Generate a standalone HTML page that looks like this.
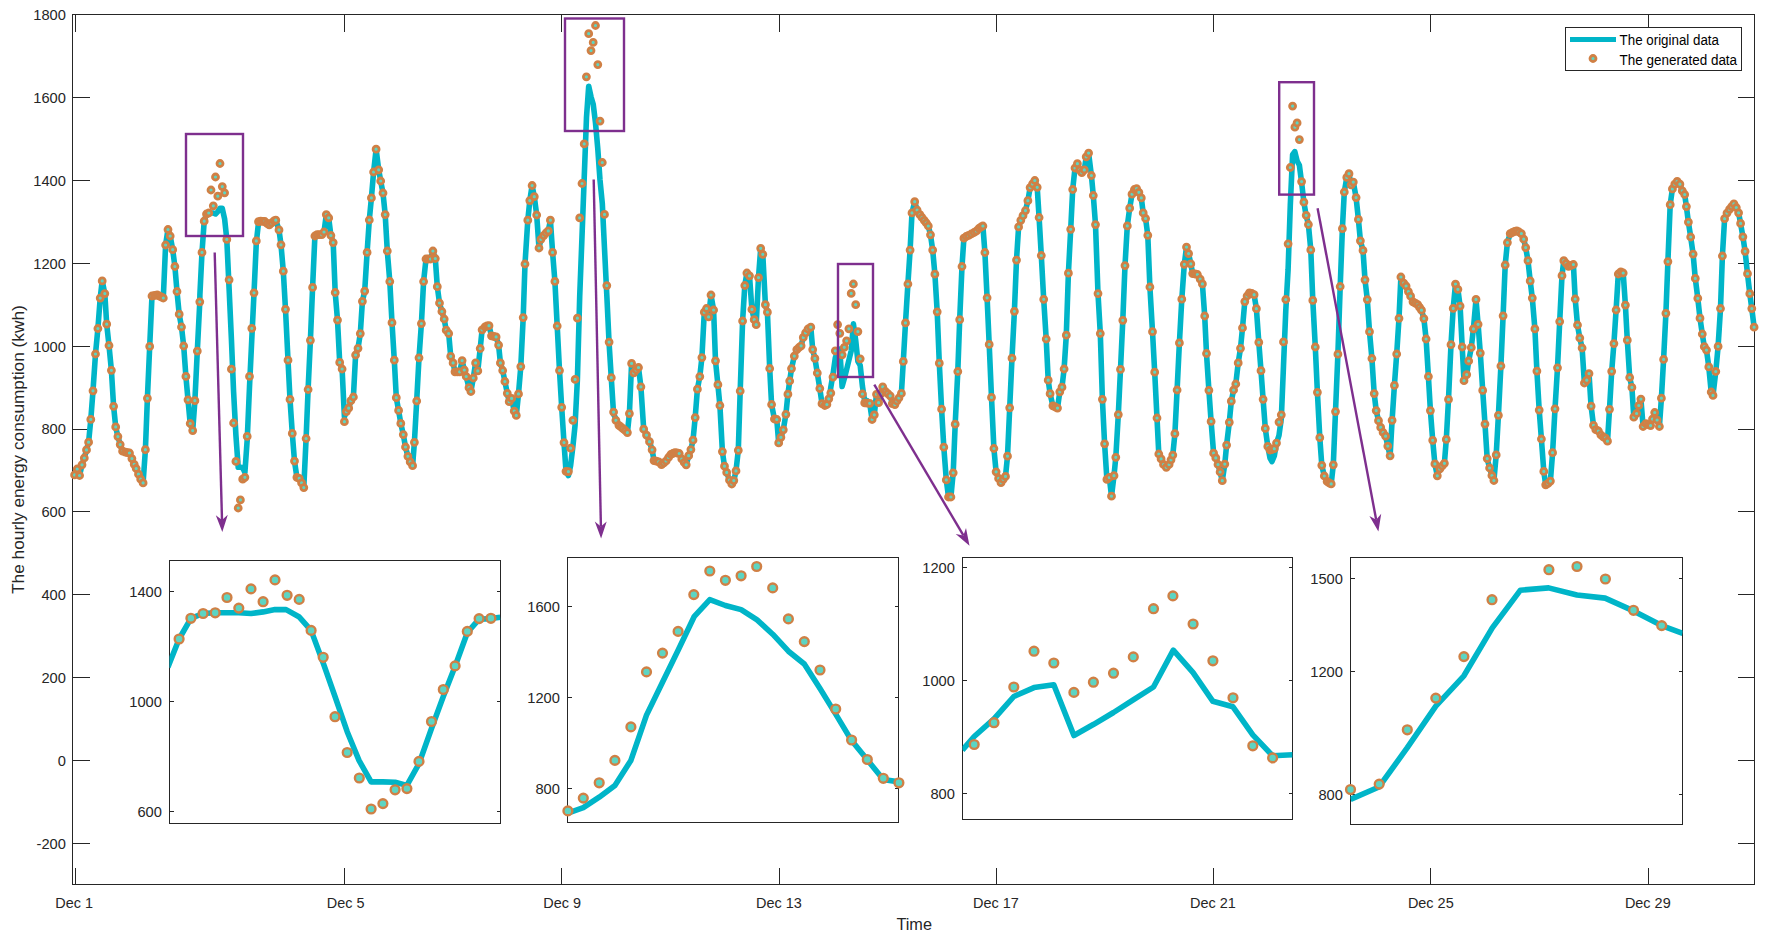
<!DOCTYPE html>
<html lang="en"><head><meta charset="utf-8"><title>Hourly energy consumption</title>
<style>html,body{margin:0;padding:0;background:#fff}body{width:1766px;height:939px;overflow:hidden}</style></head>
<body>
<svg width="1766" height="939" viewBox="0 0 1766 939" style="display:block">
<rect x="0" y="0" width="1766" height="939" fill="#fff"/>
<g stroke="#262626" stroke-width="1" fill="none" shape-rendering="crispEdges">
<rect x="72.5" y="14.5" width="1682.0" height="870.0"/>
<path d="M75.5 884.5v-17M75.5 14.5v17"/>
<path d="M344.5 884.5v-17M344.5 14.5v17"/>
<path d="M561.5 884.5v-17M561.5 14.5v17"/>
<path d="M779.5 884.5v-17M779.5 14.5v17"/>
<path d="M996.5 884.5v-17M996.5 14.5v17"/>
<path d="M1213.5 884.5v-17M1213.5 14.5v17"/>
<path d="M1430.5 884.5v-17M1430.5 14.5v17"/>
<path d="M1648.5 884.5v-17M1648.5 14.5v17"/>
<path d="M72.5 14.5h17M1754.5 14.5h-17"/>
<path d="M72.5 97.4h17M1754.5 97.4h-17"/>
<path d="M72.5 180.3h17M1754.5 180.3h-17"/>
<path d="M72.5 263.20000000000005h17M1754.5 263.20000000000005h-17"/>
<path d="M72.5 346.1h17M1754.5 346.1h-17"/>
<path d="M72.5 429.0h17M1754.5 429.0h-17"/>
<path d="M72.5 511.90000000000003h17M1754.5 511.90000000000003h-17"/>
<path d="M72.5 594.8000000000001h17M1754.5 594.8000000000001h-17"/>
<path d="M72.5 677.7h17M1754.5 677.7h-17"/>
<path d="M72.5 760.6h17M1754.5 760.6h-17"/>
<path d="M72.5 843.5h17M1754.5 843.5h-17"/>
</g>
<g font-family="Liberation Sans, Arial, Helvetica, sans-serif" font-size="14.67px" fill="#262626">
<text x="65.9" y="19.9" text-anchor="end" >1800</text>
<text x="65.9" y="102.8" text-anchor="end" >1600</text>
<text x="65.9" y="185.7" text-anchor="end" >1400</text>
<text x="65.9" y="268.6" text-anchor="end" >1200</text>
<text x="65.9" y="351.5" text-anchor="end" >1000</text>
<text x="65.9" y="434.4" text-anchor="end" >800</text>
<text x="65.9" y="517.3" text-anchor="end" >600</text>
<text x="65.9" y="600.2" text-anchor="end" >400</text>
<text x="65.9" y="683.1" text-anchor="end" >200</text>
<text x="65.9" y="766.0" text-anchor="end" >0</text>
<text x="65.9" y="848.9" text-anchor="end" >-200</text>
<text x="74.2" y="907.7" text-anchor="middle" textLength="37.7" lengthAdjust="spacingAndGlyphs">Dec 1</text>
<text x="345.6" y="907.7" text-anchor="middle" textLength="37.7" lengthAdjust="spacingAndGlyphs">Dec 5</text>
<text x="562.1" y="907.7" text-anchor="middle" textLength="37.7" lengthAdjust="spacingAndGlyphs">Dec 9</text>
<text x="779.0" y="907.7" text-anchor="middle" textLength="45.8" lengthAdjust="spacingAndGlyphs">Dec 13</text>
<text x="996.0" y="907.7" text-anchor="middle" textLength="45.8" lengthAdjust="spacingAndGlyphs">Dec 17</text>
<text x="1212.9" y="907.7" text-anchor="middle" textLength="45.8" lengthAdjust="spacingAndGlyphs">Dec 21</text>
<text x="1430.8" y="907.7" text-anchor="middle" textLength="45.8" lengthAdjust="spacingAndGlyphs">Dec 25</text>
<text x="1647.8" y="907.7" text-anchor="middle" textLength="45.8" lengthAdjust="spacingAndGlyphs">Dec 29</text>
</g>
<text font-family="Liberation Sans, Arial, Helvetica, sans-serif" font-size="17.3px" fill="#262626" x="914.2" y="929.8" text-anchor="middle" textLength="35.6" lengthAdjust="spacingAndGlyphs">Time</text>
<text font-family="Liberation Sans, Arial, Helvetica, sans-serif" font-size="17.3px" fill="#262626" text-anchor="middle" textLength="288.7" lengthAdjust="spacingAndGlyphs" transform="translate(23.6 449.6) rotate(-90)">The hourly energy consumption (kwh)</text>
<polyline points="74.6,474.9 77.2,469.0 79.6,475.5 82.0,464.8 84.3,458.0 86.5,449.9 88.6,442.2 90.8,419.4 93.0,390.8 95.5,354.0 97.9,328.5 100.2,298.1 102.2,280.9 104.8,293.6 106.7,324.2 109.0,345.5 111.4,370.3 113.6,406.3 115.7,426.9 117.9,436.6 120.2,444.6 122.6,451.2 125.4,452.1 129.5,453.0 131.9,458.6 134.2,464.3 136.2,468.5 138.5,474.2 140.7,479.2 143.1,482.9 145.4,449.7 147.4,398.3 149.7,346.4 152.0,296.0 157.2,295.0 161.3,297.0 163.3,298.0 165.6,245.0 168.0,229.5 170.2,236.0 172.7,249.7 174.9,266.5 177.0,291.5 179.2,314.2 181.5,327.0 183.7,346.0 185.9,376.4 188.0,399.8 190.2,423.5 192.7,430.6 194.9,400.7 197.3,351.1 199.8,301.8 199.9,294.7 202.0,252.4 204.2,221.2 206.5,214.0 208.8,213.0 211.0,213.0 213.3,213.0 215.5,214.0 217.8,211.6 220.0,208.2 222.2,208.2 224.6,218.8 226.8,239.4 229.1,288.5 231.4,338.9 233.6,391.8 235.9,435.0 238.2,467.2 240.4,467.2 242.7,467.7 244.9,472.5 247.2,439.8 249.5,387.0 251.8,338.9 254.0,293.3 256.3,242.8 258.5,222.6 260.7,221.7 262.5,219.8 264.8,221.5 267.1,223.5 269.3,224.8 271.6,223.0 273.9,221.0 275.8,220.2 279.0,229.9 281.0,244.8 283.3,271.2 285.5,309.3 288.0,360.2 290.0,399.4 292.3,433.4 294.5,461.1 296.9,477.3 299.2,478.3 301.6,482.9 303.8,487.6 306.1,438.5 308.1,389.5 310.4,340.3 312.6,287.4 314.9,236.0 317.2,234.7 319.5,234.7 321.8,234.7 324.0,232.0 326.3,214.6 328.7,217.9 330.9,235.5 333.2,242.6 335.2,292.5 337.5,320.1 339.7,362.4 342.1,369.0 344.4,416.6 346.4,411.6 348.7,408.2 350.9,400.7 353.4,397.0 355.6,355.0 358.0,348.3 360.3,333.6 362.4,301.3 364.7,291.1 367.1,252.4 369.3,220.0 371.4,197.9 373.6,172.0 376.1,149.2 378.7,169.8 380.7,181.0 383.0,193.0 385.2,214.6 387.3,251.0 389.8,281.5 392.0,322.7 394.3,360.2 396.3,397.7 398.6,410.4 400.8,423.4 403.3,434.6 405.5,447.0 407.9,456.3 410.2,461.9 412.6,465.7 414.4,442.3 416.7,401.0 419.0,357.8 421.4,323.6 423.6,281.5 426.0,259.0 428.3,259.0 430.6,259.0 432.9,251.0 435.3,258.5 437.3,286.7 439.5,303.0 441.9,311.5 444.2,319.0 446.2,330.2 448.7,333.5 450.7,356.3 453.1,362.9 455.0,371.8 457.4,371.8 459.7,371.8 462.1,360.6 464.3,370.0 466.2,376.5 469.0,387.7 470.9,391.5 473.3,378.0 475.6,362.9 477.8,370.9 480.2,348.5 482.1,329.8 484.9,327.0 487.0,326.0 489.0,325.7 491.5,335.8 493.8,336.5 496.1,336.9 498.6,345.1 500.4,362.9 502.7,370.5 504.9,381.5 507.3,393.3 509.2,401.7 511.6,398.4 514.2,411.1 516.3,415.4 518.5,393.9 520.8,366.6 523.2,317.6 525.0,264.0 527.8,220.2 529.8,200.6 532.1,185.5 534.3,196.7 536.7,215.0 539.0,248.0 540.9,239.3 543.7,235.6 546.0,233.0 548.3,230.9 550.4,220.2 552.6,252.4 554.9,281.4 557.2,326.0 559.5,370.5 561.7,407.3 564.0,442.6 566.0,471.3 568.4,475.6 570.6,465.7 572.9,446.5 575.1,424.9 577.4,379.4 579.7,296.6 582.0,236.6 584.2,178.3 586.5,117.1 588.7,86.2 591.0,96.7 593.2,104.2 595.5,122.9 597.8,149.1 600.0,180.0 602.3,203.4 604.5,248.3 606.8,294.9 609.1,343.3 611.3,378.3 613.6,414.4 615.9,418.5 618.9,425.3 621.0,427.0 623.0,428.7 625.2,430.5 627.4,432.6 629.4,413.6 631.6,363.4 633.8,372.8 636.2,370.0 638.5,367.5 640.9,386.8 643.7,429.2 646.5,435.1 649.5,441.7 652.1,449.8 654.0,460.6 656.3,461.2 658.7,461.9 661.5,464.7 663.8,463.0 666.1,461.0 668.5,457.5 670.8,454.5 672.9,453.5 674.9,452.6 677.0,453.0 679.2,453.5 681.8,459.0 684.2,462.5 686.2,464.8 688.7,455.7 690.9,449.6 693.0,440.2 695.2,417.6 697.4,389.2 699.8,376.6 701.9,357.6 704.3,312.2 706.5,308.5 708.6,316.9 711.0,295.0 713.6,310.0 715.5,360.8 717.9,384.7 719.9,405.5 722.4,451.6 724.5,466.2 726.7,472.4 729.5,480.2 731.8,484.0 733.8,480.6 736.0,470.9 738.3,450.3 740.2,391.0 742.6,321.0 744.8,285.5 746.9,273.0 749.5,275.8 751.9,309.4 754.2,319.7 756.2,324.7 758.5,277.6 760.7,248.3 762.8,254.3 765.4,304.7 767.4,312.2 769.7,368.5 771.6,404.5 774.4,419.0 776.8,419.5 778.7,442.9 780.9,437.3 783.3,429.8 785.9,414.3 787.9,394.2 789.7,381.0 791.5,368.6 794.3,356.1 796.8,349.6 799.0,347.5 801.1,345.8 803.3,337.4 805.6,332.8 808.0,329.0 810.8,327.2 812.7,349.6 814.9,358.4 817.3,373.0 819.8,388.5 822.0,403.7 824.8,405.5 826.9,404.5 829.5,397.3 830.8,387.2 833.0,374.3 835.3,357.9 837.6,351.3 839.8,349.2 842.1,386.5 844.4,378.3 846.6,369.6 848.9,360.2 851.2,350.8 853.4,323.9 855.7,340.3 857.9,361.4 860.2,365.4 862.4,386.0 864.7,401.3 867.0,400.6 869.7,403.3 872.1,419.5 874.3,414.8 876.5,394.3 878.6,402.7 880.7,394.0 882.7,386.8 885.5,391.5 887.8,393.6 890.2,395.8 892.3,403.6 894.9,404.6 896.9,401.0 898.9,398.0 901.4,393.4 903.3,361.4 905.5,322.9 907.9,284.0 910.1,250.1 912.0,212.9 914.7,201.7 917.1,210.0 919.9,214.7 922.0,217.5 924.2,220.3 926.3,223.0 928.3,226.0 930.5,234.8 932.7,250.1 934.9,274.2 937.2,311.8 939.3,363.2 941.6,409.2 943.8,447.2 946.3,479.9 948.5,497.0 950.9,497.0 953.2,472.8 955.2,424.2 957.8,371.5 959.7,319.7 962.0,266.5 963.9,238.2 966.2,236.5 968.6,235.4 971.3,234.0 974.1,232.5 976.5,231.0 978.9,228.5 981.0,227.0 982.9,226.0 984.9,252.5 987.1,297.8 989.2,344.4 991.5,397.4 993.9,448.5 996.1,471.8 998.6,478.4 1001.0,482.7 1003.2,479.3 1005.5,476.4 1007.5,456.2 1009.7,407.8 1012.0,358.2 1014.4,311.3 1016.5,260.1 1018.6,226.9 1020.8,220.3 1023.0,215.7 1025.5,210.6 1027.9,200.7 1030.1,187.6 1032.6,183.9 1034.8,180.5 1037.2,187.3 1039.1,217.5 1041.3,255.5 1043.7,299.3 1046.2,339.0 1048.2,380.2 1050.1,393.7 1052.9,405.8 1055.2,407.0 1057.5,408.1 1059.8,391.8 1062.0,387.2 1064.1,369.0 1066.3,335.2 1068.4,273.2 1070.7,229.3 1072.7,189.5 1075.0,168.0 1077.4,163.7 1079.6,170.0 1081.8,172.7 1084.3,169.9 1086.2,156.8 1088.6,153.1 1091.4,175.5 1093.3,195.5 1095.5,224.6 1098.0,293.6 1100.3,333.5 1102.4,399.3 1104.6,443.8 1106.9,479.4 1109.3,477.5 1111.5,496.2 1114.0,475.7 1115.8,457.3 1118.3,414.6 1120.5,369.4 1122.8,320.3 1125.0,265.6 1127.3,225.9 1129.7,208.2 1132.0,194.2 1134.4,189.5 1136.6,188.6 1138.9,192.3 1141.3,197.9 1143.2,212.9 1145.6,218.5 1147.8,235.3 1149.9,287.0 1152.5,331.7 1154.7,372.2 1157.0,418.0 1158.8,454.0 1161.1,458.9 1163.5,464.5 1166.3,467.3 1169.1,464.5 1171.0,459.8 1172.8,455.1 1174.9,433.7 1177.1,390.0 1179.4,342.9 1181.8,299.2 1184.3,264.3 1186.5,247.1 1188.6,253.6 1190.8,263.9 1192.7,273.6 1195.0,274.0 1197.4,274.5 1200.2,279.2 1202.4,283.9 1204.7,316.0 1206.5,353.5 1208.9,390.3 1211.1,421.4 1213.6,453.2 1215.8,457.9 1218.0,464.5 1220.1,472.0 1222.3,480.7 1224.8,464.1 1226.6,445.1 1229.3,422.3 1231.3,401.2 1233.6,390.0 1235.8,384.0 1238.2,362.9 1240.5,348.3 1242.5,327.9 1244.8,301.6 1247.1,296.0 1249.4,292.8 1251.8,293.5 1254.1,294.7 1256.4,308.7 1258.8,342.3 1261.0,370.7 1263.1,399.3 1265.3,428.4 1267.8,446.4 1270.0,458.0 1272.0,461.5 1274.3,456.0 1276.5,443.1 1279.0,435.4 1281.3,418.6 1283.5,365.9 1285.8,310.2 1288.1,269.5 1290.3,205.2 1292.6,154.6 1294.8,151.6 1297.1,161.0 1299.4,165.3 1301.6,182.5 1303.9,202.2 1305.6,212.5 1306.2,215.3 1308.4,224.5 1310.8,249.9 1312.8,300.4 1315.3,347.0 1317.4,392.3 1319.8,437.7 1321.8,465.3 1324.3,476.0 1327.1,481.5 1329.2,483.0 1331.2,483.9 1333.3,464.8 1335.5,411.6 1337.9,354.2 1340.2,286.5 1342.4,228.7 1344.3,192.0 1346.8,177.4 1349.0,173.7 1351.1,184.9 1353.3,182.1 1356.1,197.6 1358.4,219.4 1360.4,240.8 1363.0,250.4 1365.0,279.8 1367.3,299.6 1369.5,331.7 1371.9,358.5 1374.2,393.6 1376.2,410.6 1378.5,420.7 1380.7,427.4 1383.1,432.5 1385.6,436.2 1387.8,446.1 1390.1,455.8 1392.1,420.3 1394.4,385.4 1396.7,354.0 1399.0,318.3 1400.9,277.0 1403.7,283.1 1406.1,286.0 1408.4,291.6 1410.6,296.2 1413.0,301.8 1415.3,303.2 1417.7,304.6 1419.6,307.4 1421.5,310.2 1423.9,318.6 1426.1,339.0 1428.4,376.5 1430.4,410.6 1432.7,440.3 1434.9,463.9 1437.3,475.8 1439.8,468.9 1442.1,466.0 1444.4,463.3 1446.3,439.4 1448.5,399.4 1451.0,344.7 1453.2,308.4 1455.5,284.1 1457.9,289.3 1460.1,306.1 1462.2,347.0 1464.0,380.7 1466.7,374.6 1468.7,361.0 1471.3,347.5 1473.4,328.9 1476.0,299.4 1478.1,324.3 1480.3,353.1 1482.7,390.4 1485.0,424.1 1487.2,458.6 1489.6,468.0 1491.9,475.5 1493.9,480.5 1496.2,454.9 1498.4,415.3 1500.9,366.0 1503.1,315.8 1505.2,265.0 1507.4,242.6 1510.2,233.6 1512.4,232.5 1514.6,231.5 1516.7,230.8 1519.0,232.0 1521.4,233.6 1523.7,239.2 1525.7,247.6 1528.0,260.7 1530.2,280.9 1532.3,298.1 1534.9,328.9 1536.9,371.1 1539.2,410.1 1541.4,439.0 1543.8,471.4 1545.7,484.8 1548.0,483.5 1550.4,481.1 1552.6,452.7 1555.0,408.8 1557.5,367.8 1559.7,321.5 1562.0,275.7 1563.8,260.7 1566.2,263.5 1568.5,266.3 1571.0,265.5 1573.4,264.5 1575.2,299.0 1577.5,325.0 1579.8,338.0 1582.1,348.0 1584.4,383.0 1586.8,380.2 1589.0,373.6 1591.1,406.2 1593.5,425.3 1595.8,429.7 1598.4,431.0 1600.9,435.0 1603.3,437.0 1605.5,438.1 1607.5,441.2 1609.5,409.3 1611.7,371.3 1613.9,343.6 1616.1,310.0 1618.3,274.0 1620.8,271.8 1623.2,273.0 1625.4,305.1 1627.3,340.2 1629.7,377.5 1631.9,387.4 1633.8,417.2 1636.6,413.5 1638.8,405.5 1640.9,399.1 1643.1,426.5 1645.9,423.7 1648.3,424.6 1650.6,425.6 1652.5,419.1 1654.7,412.5 1657.1,420.0 1659.4,426.5 1661.4,398.2 1663.6,359.4 1665.9,313.3 1667.9,261.6 1670.2,204.7 1672.4,188.9 1674.8,184.2 1677.2,181.4 1679.9,184.2 1682.3,190.8 1684.7,194.5 1686.4,206.6 1688.4,222.1 1690.7,237.0 1693.1,254.1 1695.3,278.4 1697.8,298.3 1700.0,318.2 1702.3,334.0 1704.3,346.7 1706.5,350.1 1708.8,366.9 1711.2,392.0 1713.0,395.4 1715.8,371.5 1718.1,346.4 1720.5,308.5 1722.4,256.0 1724.6,218.7 1727.0,213.1 1729.5,209.4 1731.7,206.6 1733.9,203.8 1736.3,207.5 1738.6,212.8 1740.6,223.4 1742.9,236.8 1745.1,251.3 1747.5,273.7 1749.8,293.7 1751.8,308.6 1754.1,327.2" fill="none" stroke="#00b5c8" stroke-width="5.6" stroke-linejoin="round" stroke-linecap="butt"/>
<g fill="#5cd5c3" stroke="#d08045" stroke-width="2.8">
<circle cx="74.6" cy="474.9" r="3"/>
<circle cx="77.2" cy="469.0" r="3"/>
<circle cx="79.6" cy="475.5" r="3"/>
<circle cx="82.0" cy="464.8" r="3"/>
<circle cx="84.3" cy="458.0" r="3"/>
<circle cx="86.5" cy="449.9" r="3"/>
<circle cx="88.6" cy="442.2" r="3"/>
<circle cx="90.8" cy="419.4" r="3"/>
<circle cx="93.0" cy="390.8" r="3"/>
<circle cx="95.5" cy="354.0" r="3"/>
<circle cx="97.9" cy="328.5" r="3"/>
<circle cx="100.2" cy="298.1" r="3"/>
<circle cx="102.2" cy="280.9" r="3"/>
<circle cx="104.8" cy="293.6" r="3"/>
<circle cx="106.7" cy="324.2" r="3"/>
<circle cx="109.0" cy="345.5" r="3"/>
<circle cx="111.4" cy="370.3" r="3"/>
<circle cx="113.6" cy="406.3" r="3"/>
<circle cx="115.7" cy="426.9" r="3"/>
<circle cx="117.9" cy="436.6" r="3"/>
<circle cx="120.2" cy="444.6" r="3"/>
<circle cx="122.6" cy="451.2" r="3"/>
<circle cx="125.4" cy="452.1" r="3"/>
<circle cx="127.5" cy="452.6" r="3"/>
<circle cx="129.5" cy="453.0" r="3"/>
<circle cx="131.9" cy="458.6" r="3"/>
<circle cx="134.2" cy="464.3" r="3"/>
<circle cx="136.2" cy="468.5" r="3"/>
<circle cx="138.5" cy="474.2" r="3"/>
<circle cx="140.7" cy="479.2" r="3"/>
<circle cx="143.1" cy="482.9" r="3"/>
<circle cx="145.4" cy="449.7" r="3"/>
<circle cx="147.4" cy="398.3" r="3"/>
<circle cx="149.7" cy="346.4" r="3"/>
<circle cx="152.0" cy="296.0" r="3"/>
<circle cx="154.6" cy="295.5" r="3"/>
<circle cx="157.2" cy="295.0" r="3"/>
<circle cx="159.2" cy="296.0" r="3"/>
<circle cx="161.3" cy="297.0" r="3"/>
<circle cx="163.3" cy="298.0" r="3"/>
<circle cx="165.6" cy="245.0" r="3"/>
<circle cx="168.0" cy="229.5" r="3"/>
<circle cx="170.2" cy="236.0" r="3"/>
<circle cx="172.7" cy="249.7" r="3"/>
<circle cx="174.9" cy="266.5" r="3"/>
<circle cx="177.0" cy="291.5" r="3"/>
<circle cx="179.2" cy="314.2" r="3"/>
<circle cx="181.5" cy="327.0" r="3"/>
<circle cx="183.7" cy="346.0" r="3"/>
<circle cx="185.9" cy="376.4" r="3"/>
<circle cx="188.0" cy="399.8" r="3"/>
<circle cx="190.2" cy="423.5" r="3"/>
<circle cx="192.7" cy="430.6" r="3"/>
<circle cx="194.9" cy="400.7" r="3"/>
<circle cx="197.3" cy="351.1" r="3"/>
<circle cx="199.8" cy="301.8" r="3"/>
<circle cx="202.0" cy="252.4" r="3"/>
<circle cx="204.2" cy="221.2" r="3"/>
<circle cx="206.5" cy="214.0" r="3"/>
<circle cx="208.8" cy="213.0" r="3"/>
<circle cx="211.0" cy="190.0" r="3"/>
<circle cx="213.3" cy="205.8" r="3"/>
<circle cx="215.5" cy="177.0" r="3"/>
<circle cx="217.8" cy="196.2" r="3"/>
<circle cx="220.0" cy="163.5" r="3"/>
<circle cx="222.3" cy="186.6" r="3"/>
<circle cx="224.6" cy="192.8" r="3"/>
<circle cx="226.8" cy="239.4" r="3"/>
<circle cx="229.1" cy="279.8" r="3"/>
<circle cx="231.4" cy="369.2" r="3"/>
<circle cx="233.6" cy="423.0" r="3"/>
<circle cx="235.9" cy="461.4" r="3"/>
<circle cx="238.2" cy="508.0" r="3"/>
<circle cx="240.4" cy="499.9" r="3"/>
<circle cx="242.7" cy="479.2" r="3"/>
<circle cx="244.9" cy="477.3" r="3"/>
<circle cx="247.2" cy="436.4" r="3"/>
<circle cx="249.5" cy="376.4" r="3"/>
<circle cx="251.8" cy="328.3" r="3"/>
<circle cx="254.0" cy="292.8" r="3"/>
<circle cx="256.3" cy="240.9" r="3"/>
<circle cx="258.5" cy="221.7" r="3"/>
<circle cx="260.7" cy="221.2" r="3"/>
<circle cx="262.8" cy="221.3" r="3"/>
<circle cx="264.8" cy="221.5" r="3"/>
<circle cx="267.1" cy="223.5" r="3"/>
<circle cx="269.3" cy="224.8" r="3"/>
<circle cx="271.6" cy="223.0" r="3"/>
<circle cx="273.9" cy="221.0" r="3"/>
<circle cx="275.8" cy="220.2" r="3"/>
<circle cx="279.0" cy="229.9" r="3"/>
<circle cx="281.0" cy="244.8" r="3"/>
<circle cx="283.3" cy="271.2" r="3"/>
<circle cx="285.5" cy="309.3" r="3"/>
<circle cx="288.0" cy="360.2" r="3"/>
<circle cx="290.0" cy="399.4" r="3"/>
<circle cx="292.3" cy="433.4" r="3"/>
<circle cx="294.5" cy="461.1" r="3"/>
<circle cx="296.9" cy="477.3" r="3"/>
<circle cx="299.2" cy="478.3" r="3"/>
<circle cx="301.6" cy="482.9" r="3"/>
<circle cx="303.8" cy="487.6" r="3"/>
<circle cx="306.1" cy="438.5" r="3"/>
<circle cx="308.1" cy="389.5" r="3"/>
<circle cx="310.4" cy="340.3" r="3"/>
<circle cx="312.6" cy="287.4" r="3"/>
<circle cx="314.9" cy="236.0" r="3"/>
<circle cx="317.2" cy="234.7" r="3"/>
<circle cx="319.5" cy="234.7" r="3"/>
<circle cx="321.8" cy="234.7" r="3"/>
<circle cx="324.0" cy="232.0" r="3"/>
<circle cx="326.3" cy="214.6" r="3"/>
<circle cx="328.7" cy="217.9" r="3"/>
<circle cx="330.9" cy="235.5" r="3"/>
<circle cx="333.2" cy="242.6" r="3"/>
<circle cx="335.2" cy="292.5" r="3"/>
<circle cx="337.5" cy="320.1" r="3"/>
<circle cx="339.7" cy="362.4" r="3"/>
<circle cx="342.1" cy="369.0" r="3"/>
<circle cx="344.4" cy="421.7" r="3"/>
<circle cx="346.4" cy="411.6" r="3"/>
<circle cx="348.7" cy="408.2" r="3"/>
<circle cx="350.9" cy="400.7" r="3"/>
<circle cx="353.4" cy="397.0" r="3"/>
<circle cx="355.6" cy="355.0" r="3"/>
<circle cx="358.0" cy="348.3" r="3"/>
<circle cx="360.3" cy="333.6" r="3"/>
<circle cx="362.4" cy="301.3" r="3"/>
<circle cx="364.7" cy="291.1" r="3"/>
<circle cx="367.1" cy="252.4" r="3"/>
<circle cx="369.3" cy="220.0" r="3"/>
<circle cx="371.4" cy="197.9" r="3"/>
<circle cx="373.6" cy="172.0" r="3"/>
<circle cx="376.1" cy="149.2" r="3"/>
<circle cx="378.7" cy="169.8" r="3"/>
<circle cx="380.7" cy="181.0" r="3"/>
<circle cx="383.0" cy="193.0" r="3"/>
<circle cx="385.2" cy="214.6" r="3"/>
<circle cx="387.3" cy="251.0" r="3"/>
<circle cx="389.8" cy="281.5" r="3"/>
<circle cx="392.0" cy="322.7" r="3"/>
<circle cx="394.3" cy="360.2" r="3"/>
<circle cx="396.3" cy="397.7" r="3"/>
<circle cx="398.6" cy="410.4" r="3"/>
<circle cx="400.8" cy="423.4" r="3"/>
<circle cx="403.3" cy="434.6" r="3"/>
<circle cx="405.5" cy="447.0" r="3"/>
<circle cx="407.9" cy="456.3" r="3"/>
<circle cx="410.2" cy="461.9" r="3"/>
<circle cx="412.6" cy="465.7" r="3"/>
<circle cx="414.4" cy="442.3" r="3"/>
<circle cx="416.7" cy="401.0" r="3"/>
<circle cx="419.0" cy="357.8" r="3"/>
<circle cx="421.4" cy="323.6" r="3"/>
<circle cx="423.6" cy="281.5" r="3"/>
<circle cx="426.0" cy="259.0" r="3"/>
<circle cx="428.3" cy="259.0" r="3"/>
<circle cx="430.6" cy="259.0" r="3"/>
<circle cx="432.9" cy="251.0" r="3"/>
<circle cx="435.3" cy="258.5" r="3"/>
<circle cx="437.3" cy="286.7" r="3"/>
<circle cx="439.5" cy="303.0" r="3"/>
<circle cx="441.9" cy="311.5" r="3"/>
<circle cx="444.2" cy="319.0" r="3"/>
<circle cx="446.2" cy="330.2" r="3"/>
<circle cx="448.7" cy="333.5" r="3"/>
<circle cx="450.7" cy="356.3" r="3"/>
<circle cx="453.1" cy="362.9" r="3"/>
<circle cx="455.0" cy="371.8" r="3"/>
<circle cx="457.4" cy="371.8" r="3"/>
<circle cx="459.7" cy="371.8" r="3"/>
<circle cx="462.1" cy="360.6" r="3"/>
<circle cx="464.3" cy="370.0" r="3"/>
<circle cx="466.2" cy="376.5" r="3"/>
<circle cx="469.0" cy="387.7" r="3"/>
<circle cx="470.9" cy="391.5" r="3"/>
<circle cx="473.3" cy="378.0" r="3"/>
<circle cx="475.6" cy="362.9" r="3"/>
<circle cx="477.8" cy="370.9" r="3"/>
<circle cx="480.2" cy="348.5" r="3"/>
<circle cx="482.1" cy="329.8" r="3"/>
<circle cx="484.9" cy="327.0" r="3"/>
<circle cx="487.0" cy="326.0" r="3"/>
<circle cx="489.0" cy="325.7" r="3"/>
<circle cx="491.5" cy="335.8" r="3"/>
<circle cx="493.8" cy="336.5" r="3"/>
<circle cx="496.1" cy="336.9" r="3"/>
<circle cx="498.6" cy="345.1" r="3"/>
<circle cx="500.4" cy="362.9" r="3"/>
<circle cx="502.7" cy="370.5" r="3"/>
<circle cx="504.9" cy="381.5" r="3"/>
<circle cx="507.3" cy="393.3" r="3"/>
<circle cx="509.2" cy="401.7" r="3"/>
<circle cx="511.6" cy="398.4" r="3"/>
<circle cx="514.2" cy="411.1" r="3"/>
<circle cx="516.3" cy="415.4" r="3"/>
<circle cx="518.5" cy="393.9" r="3"/>
<circle cx="520.8" cy="366.6" r="3"/>
<circle cx="523.2" cy="317.6" r="3"/>
<circle cx="525.0" cy="264.0" r="3"/>
<circle cx="527.8" cy="220.2" r="3"/>
<circle cx="529.8" cy="200.6" r="3"/>
<circle cx="532.1" cy="185.5" r="3"/>
<circle cx="534.3" cy="196.7" r="3"/>
<circle cx="536.7" cy="215.0" r="3"/>
<circle cx="539.0" cy="248.0" r="3"/>
<circle cx="540.9" cy="239.3" r="3"/>
<circle cx="543.7" cy="235.6" r="3"/>
<circle cx="546.0" cy="233.0" r="3"/>
<circle cx="548.3" cy="230.9" r="3"/>
<circle cx="550.4" cy="220.2" r="3"/>
<circle cx="552.6" cy="252.4" r="3"/>
<circle cx="554.9" cy="281.4" r="3"/>
<circle cx="557.2" cy="326.0" r="3"/>
<circle cx="559.5" cy="370.5" r="3"/>
<circle cx="561.7" cy="407.3" r="3"/>
<circle cx="564.0" cy="442.6" r="3"/>
<circle cx="566.0" cy="471.3" r="3"/>
<circle cx="568.4" cy="471.6" r="3"/>
<circle cx="570.6" cy="448.2" r="3"/>
<circle cx="572.9" cy="420.3" r="3"/>
<circle cx="575.1" cy="379.4" r="3"/>
<circle cx="577.4" cy="318.2" r="3"/>
<circle cx="579.7" cy="217.9" r="3"/>
<circle cx="582.0" cy="183.5" r="3"/>
<circle cx="584.2" cy="143.9" r="3"/>
<circle cx="586.4" cy="76.8" r="3"/>
<circle cx="588.7" cy="33.7" r="3"/>
<circle cx="591.0" cy="50.6" r="3"/>
<circle cx="593.2" cy="42.4" r="3"/>
<circle cx="595.5" cy="25.5" r="3"/>
<circle cx="597.8" cy="64.6" r="3"/>
<circle cx="600.0" cy="121.1" r="3"/>
<circle cx="602.3" cy="162.5" r="3"/>
<circle cx="604.5" cy="214.4" r="3"/>
<circle cx="606.8" cy="285.6" r="3"/>
<circle cx="609.1" cy="342.1" r="3"/>
<circle cx="611.3" cy="377.7" r="3"/>
<circle cx="613.6" cy="412.1" r="3"/>
<circle cx="615.9" cy="420.3" r="3"/>
<circle cx="618.9" cy="425.3" r="3"/>
<circle cx="621.0" cy="427.0" r="3"/>
<circle cx="623.0" cy="428.7" r="3"/>
<circle cx="625.2" cy="430.5" r="3"/>
<circle cx="627.4" cy="432.6" r="3"/>
<circle cx="629.4" cy="413.6" r="3"/>
<circle cx="631.6" cy="363.4" r="3"/>
<circle cx="633.8" cy="372.8" r="3"/>
<circle cx="636.2" cy="370.0" r="3"/>
<circle cx="638.5" cy="367.5" r="3"/>
<circle cx="640.9" cy="386.8" r="3"/>
<circle cx="643.7" cy="429.2" r="3"/>
<circle cx="646.5" cy="435.1" r="3"/>
<circle cx="649.5" cy="441.7" r="3"/>
<circle cx="652.1" cy="449.8" r="3"/>
<circle cx="654.0" cy="460.6" r="3"/>
<circle cx="656.3" cy="461.2" r="3"/>
<circle cx="658.7" cy="461.9" r="3"/>
<circle cx="661.5" cy="464.7" r="3"/>
<circle cx="663.8" cy="463.0" r="3"/>
<circle cx="666.1" cy="461.0" r="3"/>
<circle cx="668.5" cy="457.5" r="3"/>
<circle cx="670.8" cy="454.5" r="3"/>
<circle cx="672.9" cy="453.5" r="3"/>
<circle cx="674.9" cy="452.6" r="3"/>
<circle cx="677.0" cy="453.0" r="3"/>
<circle cx="679.2" cy="453.5" r="3"/>
<circle cx="681.8" cy="459.0" r="3"/>
<circle cx="684.2" cy="462.5" r="3"/>
<circle cx="686.2" cy="464.8" r="3"/>
<circle cx="688.7" cy="455.7" r="3"/>
<circle cx="690.9" cy="449.6" r="3"/>
<circle cx="693.0" cy="440.2" r="3"/>
<circle cx="695.2" cy="417.6" r="3"/>
<circle cx="697.4" cy="389.2" r="3"/>
<circle cx="699.8" cy="376.6" r="3"/>
<circle cx="701.9" cy="357.6" r="3"/>
<circle cx="704.3" cy="312.2" r="3"/>
<circle cx="706.5" cy="308.5" r="3"/>
<circle cx="708.6" cy="316.9" r="3"/>
<circle cx="711.0" cy="295.0" r="3"/>
<circle cx="713.6" cy="310.0" r="3"/>
<circle cx="715.5" cy="360.8" r="3"/>
<circle cx="717.9" cy="384.7" r="3"/>
<circle cx="719.9" cy="405.5" r="3"/>
<circle cx="722.4" cy="451.6" r="3"/>
<circle cx="724.5" cy="466.2" r="3"/>
<circle cx="726.7" cy="472.4" r="3"/>
<circle cx="729.5" cy="480.2" r="3"/>
<circle cx="731.8" cy="484.0" r="3"/>
<circle cx="733.8" cy="480.6" r="3"/>
<circle cx="736.0" cy="470.9" r="3"/>
<circle cx="738.3" cy="450.3" r="3"/>
<circle cx="740.2" cy="391.0" r="3"/>
<circle cx="742.6" cy="321.0" r="3"/>
<circle cx="744.8" cy="285.5" r="3"/>
<circle cx="746.9" cy="273.0" r="3"/>
<circle cx="749.5" cy="275.8" r="3"/>
<circle cx="751.9" cy="309.4" r="3"/>
<circle cx="754.2" cy="319.7" r="3"/>
<circle cx="756.2" cy="324.7" r="3"/>
<circle cx="758.5" cy="277.6" r="3"/>
<circle cx="760.7" cy="248.3" r="3"/>
<circle cx="762.8" cy="254.3" r="3"/>
<circle cx="765.4" cy="304.7" r="3"/>
<circle cx="767.4" cy="312.2" r="3"/>
<circle cx="769.7" cy="368.5" r="3"/>
<circle cx="771.6" cy="404.5" r="3"/>
<circle cx="774.4" cy="419.0" r="3"/>
<circle cx="776.8" cy="419.5" r="3"/>
<circle cx="778.7" cy="442.9" r="3"/>
<circle cx="780.9" cy="437.3" r="3"/>
<circle cx="783.3" cy="429.8" r="3"/>
<circle cx="785.9" cy="414.3" r="3"/>
<circle cx="787.9" cy="394.2" r="3"/>
<circle cx="789.7" cy="381.0" r="3"/>
<circle cx="791.5" cy="368.6" r="3"/>
<circle cx="794.3" cy="356.1" r="3"/>
<circle cx="796.8" cy="349.6" r="3"/>
<circle cx="799.0" cy="347.5" r="3"/>
<circle cx="801.1" cy="345.8" r="3"/>
<circle cx="803.3" cy="337.4" r="3"/>
<circle cx="805.6" cy="332.8" r="3"/>
<circle cx="808.0" cy="329.0" r="3"/>
<circle cx="810.8" cy="327.2" r="3"/>
<circle cx="812.7" cy="349.6" r="3"/>
<circle cx="814.9" cy="358.4" r="3"/>
<circle cx="817.3" cy="373.0" r="3"/>
<circle cx="819.8" cy="388.5" r="3"/>
<circle cx="822.0" cy="403.7" r="3"/>
<circle cx="824.8" cy="405.5" r="3"/>
<circle cx="826.9" cy="404.5" r="3"/>
<circle cx="828.8" cy="398.8" r="3"/>
<circle cx="830.8" cy="393.1" r="3"/>
<circle cx="833.0" cy="377.1" r="3"/>
<circle cx="835.3" cy="350.8" r="3"/>
<circle cx="837.6" cy="324.6" r="3"/>
<circle cx="839.8" cy="333.3" r="3"/>
<circle cx="842.1" cy="354.8" r="3"/>
<circle cx="844.3" cy="347.3" r="3"/>
<circle cx="846.6" cy="340.8" r="3"/>
<circle cx="848.9" cy="328.8" r="3"/>
<circle cx="851.2" cy="293.4" r="3"/>
<circle cx="853.4" cy="284.0" r="3"/>
<circle cx="855.7" cy="304.7" r="3"/>
<circle cx="857.9" cy="331.6" r="3"/>
<circle cx="860.2" cy="358.8" r="3"/>
<circle cx="862.4" cy="394.0" r="3"/>
<circle cx="864.7" cy="402.9" r="3"/>
<circle cx="867.2" cy="403.1" r="3"/>
<circle cx="869.7" cy="403.3" r="3"/>
<circle cx="872.1" cy="419.5" r="3"/>
<circle cx="874.3" cy="414.8" r="3"/>
<circle cx="876.5" cy="394.3" r="3"/>
<circle cx="878.6" cy="402.7" r="3"/>
<circle cx="880.7" cy="394.0" r="3"/>
<circle cx="882.7" cy="386.8" r="3"/>
<circle cx="885.5" cy="391.5" r="3"/>
<circle cx="887.8" cy="393.6" r="3"/>
<circle cx="890.2" cy="395.8" r="3"/>
<circle cx="892.3" cy="403.6" r="3"/>
<circle cx="894.9" cy="404.6" r="3"/>
<circle cx="896.9" cy="401.0" r="3"/>
<circle cx="898.9" cy="398.0" r="3"/>
<circle cx="901.4" cy="393.4" r="3"/>
<circle cx="903.3" cy="361.4" r="3"/>
<circle cx="905.5" cy="322.9" r="3"/>
<circle cx="907.9" cy="284.0" r="3"/>
<circle cx="910.1" cy="250.1" r="3"/>
<circle cx="912.0" cy="212.9" r="3"/>
<circle cx="914.7" cy="201.7" r="3"/>
<circle cx="917.1" cy="210.0" r="3"/>
<circle cx="919.9" cy="214.7" r="3"/>
<circle cx="922.0" cy="217.5" r="3"/>
<circle cx="924.2" cy="220.3" r="3"/>
<circle cx="926.3" cy="223.0" r="3"/>
<circle cx="928.3" cy="226.0" r="3"/>
<circle cx="930.5" cy="234.8" r="3"/>
<circle cx="932.7" cy="250.1" r="3"/>
<circle cx="934.9" cy="274.2" r="3"/>
<circle cx="937.2" cy="311.8" r="3"/>
<circle cx="939.3" cy="363.2" r="3"/>
<circle cx="941.6" cy="409.2" r="3"/>
<circle cx="943.8" cy="447.2" r="3"/>
<circle cx="946.3" cy="479.9" r="3"/>
<circle cx="948.5" cy="497.0" r="3"/>
<circle cx="950.9" cy="497.0" r="3"/>
<circle cx="953.2" cy="472.8" r="3"/>
<circle cx="955.2" cy="424.2" r="3"/>
<circle cx="957.8" cy="371.5" r="3"/>
<circle cx="959.7" cy="319.7" r="3"/>
<circle cx="962.0" cy="266.5" r="3"/>
<circle cx="963.9" cy="238.2" r="3"/>
<circle cx="966.2" cy="236.5" r="3"/>
<circle cx="968.6" cy="235.4" r="3"/>
<circle cx="971.3" cy="234.0" r="3"/>
<circle cx="974.1" cy="232.5" r="3"/>
<circle cx="976.5" cy="231.0" r="3"/>
<circle cx="978.9" cy="228.5" r="3"/>
<circle cx="981.0" cy="227.0" r="3"/>
<circle cx="982.9" cy="226.0" r="3"/>
<circle cx="984.9" cy="252.5" r="3"/>
<circle cx="987.1" cy="297.8" r="3"/>
<circle cx="989.2" cy="344.4" r="3"/>
<circle cx="991.5" cy="397.4" r="3"/>
<circle cx="993.9" cy="448.5" r="3"/>
<circle cx="996.1" cy="471.8" r="3"/>
<circle cx="998.6" cy="478.4" r="3"/>
<circle cx="1001.0" cy="482.7" r="3"/>
<circle cx="1003.2" cy="479.3" r="3"/>
<circle cx="1005.5" cy="476.4" r="3"/>
<circle cx="1007.5" cy="456.2" r="3"/>
<circle cx="1009.7" cy="407.8" r="3"/>
<circle cx="1012.0" cy="358.2" r="3"/>
<circle cx="1014.4" cy="311.3" r="3"/>
<circle cx="1016.5" cy="260.1" r="3"/>
<circle cx="1018.6" cy="226.9" r="3"/>
<circle cx="1020.8" cy="220.3" r="3"/>
<circle cx="1023.0" cy="215.7" r="3"/>
<circle cx="1025.5" cy="210.6" r="3"/>
<circle cx="1027.9" cy="200.7" r="3"/>
<circle cx="1030.1" cy="187.6" r="3"/>
<circle cx="1032.6" cy="183.9" r="3"/>
<circle cx="1034.8" cy="180.5" r="3"/>
<circle cx="1037.2" cy="187.3" r="3"/>
<circle cx="1039.1" cy="217.5" r="3"/>
<circle cx="1041.3" cy="255.5" r="3"/>
<circle cx="1043.7" cy="299.3" r="3"/>
<circle cx="1046.2" cy="339.0" r="3"/>
<circle cx="1048.2" cy="380.2" r="3"/>
<circle cx="1050.1" cy="393.7" r="3"/>
<circle cx="1052.9" cy="405.8" r="3"/>
<circle cx="1055.2" cy="407.0" r="3"/>
<circle cx="1057.5" cy="408.1" r="3"/>
<circle cx="1059.8" cy="391.8" r="3"/>
<circle cx="1062.0" cy="387.2" r="3"/>
<circle cx="1064.1" cy="369.0" r="3"/>
<circle cx="1066.3" cy="335.2" r="3"/>
<circle cx="1068.4" cy="273.2" r="3"/>
<circle cx="1070.7" cy="229.3" r="3"/>
<circle cx="1072.7" cy="189.5" r="3"/>
<circle cx="1075.0" cy="168.0" r="3"/>
<circle cx="1077.4" cy="163.7" r="3"/>
<circle cx="1079.6" cy="170.0" r="3"/>
<circle cx="1081.8" cy="172.7" r="3"/>
<circle cx="1084.3" cy="169.9" r="3"/>
<circle cx="1086.2" cy="156.8" r="3"/>
<circle cx="1088.6" cy="153.1" r="3"/>
<circle cx="1091.4" cy="175.5" r="3"/>
<circle cx="1093.3" cy="195.5" r="3"/>
<circle cx="1095.5" cy="224.6" r="3"/>
<circle cx="1098.0" cy="293.6" r="3"/>
<circle cx="1100.3" cy="333.5" r="3"/>
<circle cx="1102.4" cy="399.3" r="3"/>
<circle cx="1104.6" cy="443.8" r="3"/>
<circle cx="1106.9" cy="479.4" r="3"/>
<circle cx="1109.3" cy="477.5" r="3"/>
<circle cx="1111.5" cy="496.2" r="3"/>
<circle cx="1114.0" cy="475.7" r="3"/>
<circle cx="1115.8" cy="457.3" r="3"/>
<circle cx="1118.3" cy="414.6" r="3"/>
<circle cx="1120.5" cy="369.4" r="3"/>
<circle cx="1122.8" cy="320.3" r="3"/>
<circle cx="1125.0" cy="265.6" r="3"/>
<circle cx="1127.3" cy="225.9" r="3"/>
<circle cx="1129.7" cy="208.2" r="3"/>
<circle cx="1132.0" cy="194.2" r="3"/>
<circle cx="1134.4" cy="189.5" r="3"/>
<circle cx="1136.6" cy="188.6" r="3"/>
<circle cx="1138.9" cy="192.3" r="3"/>
<circle cx="1141.3" cy="197.9" r="3"/>
<circle cx="1143.2" cy="212.9" r="3"/>
<circle cx="1145.6" cy="218.5" r="3"/>
<circle cx="1147.8" cy="235.3" r="3"/>
<circle cx="1149.9" cy="287.0" r="3"/>
<circle cx="1152.5" cy="331.7" r="3"/>
<circle cx="1154.7" cy="372.2" r="3"/>
<circle cx="1157.0" cy="418.0" r="3"/>
<circle cx="1158.8" cy="454.0" r="3"/>
<circle cx="1161.1" cy="458.9" r="3"/>
<circle cx="1163.5" cy="464.5" r="3"/>
<circle cx="1166.3" cy="467.3" r="3"/>
<circle cx="1169.1" cy="464.5" r="3"/>
<circle cx="1171.0" cy="459.8" r="3"/>
<circle cx="1172.8" cy="455.1" r="3"/>
<circle cx="1174.9" cy="433.7" r="3"/>
<circle cx="1177.1" cy="390.0" r="3"/>
<circle cx="1179.4" cy="342.9" r="3"/>
<circle cx="1181.8" cy="299.2" r="3"/>
<circle cx="1184.3" cy="264.3" r="3"/>
<circle cx="1186.5" cy="247.1" r="3"/>
<circle cx="1188.6" cy="253.6" r="3"/>
<circle cx="1190.8" cy="263.9" r="3"/>
<circle cx="1192.7" cy="273.6" r="3"/>
<circle cx="1195.0" cy="274.0" r="3"/>
<circle cx="1197.4" cy="274.5" r="3"/>
<circle cx="1200.2" cy="279.2" r="3"/>
<circle cx="1202.4" cy="283.9" r="3"/>
<circle cx="1204.7" cy="316.0" r="3"/>
<circle cx="1206.5" cy="353.5" r="3"/>
<circle cx="1208.9" cy="390.3" r="3"/>
<circle cx="1211.1" cy="421.4" r="3"/>
<circle cx="1213.6" cy="453.2" r="3"/>
<circle cx="1215.8" cy="457.9" r="3"/>
<circle cx="1218.0" cy="464.5" r="3"/>
<circle cx="1220.1" cy="472.0" r="3"/>
<circle cx="1222.3" cy="480.7" r="3"/>
<circle cx="1224.8" cy="464.1" r="3"/>
<circle cx="1226.6" cy="445.1" r="3"/>
<circle cx="1229.3" cy="422.3" r="3"/>
<circle cx="1231.3" cy="401.2" r="3"/>
<circle cx="1233.6" cy="390.0" r="3"/>
<circle cx="1235.8" cy="384.0" r="3"/>
<circle cx="1238.2" cy="362.9" r="3"/>
<circle cx="1240.5" cy="348.3" r="3"/>
<circle cx="1242.5" cy="327.9" r="3"/>
<circle cx="1244.8" cy="301.6" r="3"/>
<circle cx="1247.1" cy="296.0" r="3"/>
<circle cx="1249.4" cy="292.8" r="3"/>
<circle cx="1251.8" cy="293.5" r="3"/>
<circle cx="1254.1" cy="294.7" r="3"/>
<circle cx="1256.4" cy="308.7" r="3"/>
<circle cx="1258.8" cy="342.3" r="3"/>
<circle cx="1261.0" cy="370.7" r="3"/>
<circle cx="1263.1" cy="399.3" r="3"/>
<circle cx="1265.3" cy="428.4" r="3"/>
<circle cx="1267.8" cy="446.4" r="3"/>
<circle cx="1270.0" cy="450.0" r="3"/>
<circle cx="1272.0" cy="449.5" r="3"/>
<circle cx="1274.3" cy="448.7" r="3"/>
<circle cx="1276.5" cy="443.1" r="3"/>
<circle cx="1279.0" cy="422.1" r="3"/>
<circle cx="1281.3" cy="414.8" r="3"/>
<circle cx="1283.5" cy="341.9" r="3"/>
<circle cx="1285.8" cy="299.5" r="3"/>
<circle cx="1288.1" cy="243.8" r="3"/>
<circle cx="1290.3" cy="167.5" r="3"/>
<circle cx="1292.6" cy="106.1" r="3"/>
<circle cx="1294.9" cy="127.2" r="3"/>
<circle cx="1297.1" cy="122.9" r="3"/>
<circle cx="1299.4" cy="139.6" r="3"/>
<circle cx="1301.6" cy="181.6" r="3"/>
<circle cx="1303.9" cy="202.2" r="3"/>
<circle cx="1306.2" cy="215.3" r="3"/>
<circle cx="1308.4" cy="224.5" r="3"/>
<circle cx="1310.8" cy="249.9" r="3"/>
<circle cx="1312.8" cy="300.4" r="3"/>
<circle cx="1315.3" cy="347.0" r="3"/>
<circle cx="1317.4" cy="392.3" r="3"/>
<circle cx="1319.8" cy="437.7" r="3"/>
<circle cx="1321.8" cy="465.3" r="3"/>
<circle cx="1324.3" cy="476.0" r="3"/>
<circle cx="1327.1" cy="481.5" r="3"/>
<circle cx="1329.2" cy="483.0" r="3"/>
<circle cx="1331.2" cy="483.9" r="3"/>
<circle cx="1333.3" cy="464.8" r="3"/>
<circle cx="1335.5" cy="411.6" r="3"/>
<circle cx="1337.9" cy="354.2" r="3"/>
<circle cx="1340.2" cy="286.5" r="3"/>
<circle cx="1342.4" cy="228.7" r="3"/>
<circle cx="1344.3" cy="192.0" r="3"/>
<circle cx="1346.8" cy="177.4" r="3"/>
<circle cx="1349.0" cy="173.7" r="3"/>
<circle cx="1351.1" cy="184.9" r="3"/>
<circle cx="1353.3" cy="182.1" r="3"/>
<circle cx="1356.1" cy="197.6" r="3"/>
<circle cx="1358.4" cy="219.4" r="3"/>
<circle cx="1360.4" cy="240.8" r="3"/>
<circle cx="1363.0" cy="250.4" r="3"/>
<circle cx="1365.0" cy="279.8" r="3"/>
<circle cx="1367.3" cy="299.6" r="3"/>
<circle cx="1369.5" cy="331.7" r="3"/>
<circle cx="1371.9" cy="358.5" r="3"/>
<circle cx="1374.2" cy="393.6" r="3"/>
<circle cx="1376.2" cy="410.6" r="3"/>
<circle cx="1378.5" cy="420.7" r="3"/>
<circle cx="1380.7" cy="427.4" r="3"/>
<circle cx="1383.1" cy="432.5" r="3"/>
<circle cx="1385.6" cy="436.2" r="3"/>
<circle cx="1387.8" cy="446.1" r="3"/>
<circle cx="1390.1" cy="455.8" r="3"/>
<circle cx="1392.1" cy="420.3" r="3"/>
<circle cx="1394.4" cy="385.4" r="3"/>
<circle cx="1396.7" cy="354.0" r="3"/>
<circle cx="1399.0" cy="318.3" r="3"/>
<circle cx="1400.9" cy="277.0" r="3"/>
<circle cx="1403.7" cy="283.1" r="3"/>
<circle cx="1406.1" cy="286.0" r="3"/>
<circle cx="1408.4" cy="291.6" r="3"/>
<circle cx="1410.6" cy="296.2" r="3"/>
<circle cx="1413.0" cy="301.8" r="3"/>
<circle cx="1415.3" cy="303.2" r="3"/>
<circle cx="1417.7" cy="304.6" r="3"/>
<circle cx="1419.6" cy="307.4" r="3"/>
<circle cx="1421.5" cy="310.2" r="3"/>
<circle cx="1423.9" cy="318.6" r="3"/>
<circle cx="1426.1" cy="339.0" r="3"/>
<circle cx="1428.4" cy="376.5" r="3"/>
<circle cx="1430.4" cy="410.6" r="3"/>
<circle cx="1432.7" cy="440.3" r="3"/>
<circle cx="1434.9" cy="463.9" r="3"/>
<circle cx="1437.3" cy="475.8" r="3"/>
<circle cx="1439.8" cy="468.9" r="3"/>
<circle cx="1442.1" cy="466.0" r="3"/>
<circle cx="1444.4" cy="463.3" r="3"/>
<circle cx="1446.3" cy="439.4" r="3"/>
<circle cx="1448.5" cy="399.4" r="3"/>
<circle cx="1451.0" cy="344.7" r="3"/>
<circle cx="1453.2" cy="308.4" r="3"/>
<circle cx="1455.5" cy="284.1" r="3"/>
<circle cx="1457.9" cy="289.3" r="3"/>
<circle cx="1460.1" cy="306.1" r="3"/>
<circle cx="1462.2" cy="347.0" r="3"/>
<circle cx="1464.0" cy="380.7" r="3"/>
<circle cx="1466.7" cy="374.6" r="3"/>
<circle cx="1468.7" cy="361.0" r="3"/>
<circle cx="1471.3" cy="347.5" r="3"/>
<circle cx="1473.4" cy="328.9" r="3"/>
<circle cx="1476.0" cy="299.4" r="3"/>
<circle cx="1478.1" cy="324.3" r="3"/>
<circle cx="1480.3" cy="353.1" r="3"/>
<circle cx="1482.7" cy="390.4" r="3"/>
<circle cx="1485.0" cy="424.1" r="3"/>
<circle cx="1487.2" cy="458.6" r="3"/>
<circle cx="1489.6" cy="468.0" r="3"/>
<circle cx="1491.9" cy="475.5" r="3"/>
<circle cx="1493.9" cy="480.5" r="3"/>
<circle cx="1496.2" cy="454.9" r="3"/>
<circle cx="1498.4" cy="415.3" r="3"/>
<circle cx="1500.9" cy="366.0" r="3"/>
<circle cx="1503.1" cy="315.8" r="3"/>
<circle cx="1505.2" cy="265.0" r="3"/>
<circle cx="1507.4" cy="242.6" r="3"/>
<circle cx="1510.2" cy="233.6" r="3"/>
<circle cx="1512.4" cy="232.5" r="3"/>
<circle cx="1514.6" cy="231.5" r="3"/>
<circle cx="1516.7" cy="230.8" r="3"/>
<circle cx="1519.0" cy="232.0" r="3"/>
<circle cx="1521.4" cy="233.6" r="3"/>
<circle cx="1523.7" cy="239.2" r="3"/>
<circle cx="1525.7" cy="247.6" r="3"/>
<circle cx="1528.0" cy="260.7" r="3"/>
<circle cx="1530.2" cy="280.9" r="3"/>
<circle cx="1532.3" cy="298.1" r="3"/>
<circle cx="1534.9" cy="328.9" r="3"/>
<circle cx="1536.9" cy="371.1" r="3"/>
<circle cx="1539.2" cy="410.1" r="3"/>
<circle cx="1541.4" cy="439.0" r="3"/>
<circle cx="1543.8" cy="471.4" r="3"/>
<circle cx="1545.7" cy="484.8" r="3"/>
<circle cx="1548.0" cy="483.5" r="3"/>
<circle cx="1550.4" cy="481.1" r="3"/>
<circle cx="1552.6" cy="452.7" r="3"/>
<circle cx="1555.0" cy="408.8" r="3"/>
<circle cx="1557.5" cy="367.8" r="3"/>
<circle cx="1559.7" cy="321.5" r="3"/>
<circle cx="1562.0" cy="275.7" r="3"/>
<circle cx="1563.8" cy="260.7" r="3"/>
<circle cx="1566.2" cy="263.5" r="3"/>
<circle cx="1568.5" cy="266.3" r="3"/>
<circle cx="1571.0" cy="265.5" r="3"/>
<circle cx="1573.4" cy="264.5" r="3"/>
<circle cx="1575.2" cy="299.0" r="3"/>
<circle cx="1577.5" cy="325.0" r="3"/>
<circle cx="1579.8" cy="338.0" r="3"/>
<circle cx="1582.1" cy="348.0" r="3"/>
<circle cx="1584.4" cy="383.0" r="3"/>
<circle cx="1586.8" cy="380.2" r="3"/>
<circle cx="1589.0" cy="373.6" r="3"/>
<circle cx="1591.1" cy="406.2" r="3"/>
<circle cx="1593.5" cy="425.3" r="3"/>
<circle cx="1595.8" cy="429.7" r="3"/>
<circle cx="1598.4" cy="431.0" r="3"/>
<circle cx="1600.9" cy="435.0" r="3"/>
<circle cx="1603.3" cy="437.0" r="3"/>
<circle cx="1605.5" cy="438.1" r="3"/>
<circle cx="1607.5" cy="441.2" r="3"/>
<circle cx="1609.5" cy="409.3" r="3"/>
<circle cx="1611.7" cy="371.3" r="3"/>
<circle cx="1613.9" cy="343.6" r="3"/>
<circle cx="1616.1" cy="310.0" r="3"/>
<circle cx="1618.3" cy="274.0" r="3"/>
<circle cx="1620.8" cy="271.8" r="3"/>
<circle cx="1623.2" cy="273.0" r="3"/>
<circle cx="1625.4" cy="305.1" r="3"/>
<circle cx="1627.3" cy="340.2" r="3"/>
<circle cx="1629.7" cy="377.5" r="3"/>
<circle cx="1631.9" cy="387.4" r="3"/>
<circle cx="1633.8" cy="417.2" r="3"/>
<circle cx="1636.6" cy="413.5" r="3"/>
<circle cx="1638.8" cy="405.5" r="3"/>
<circle cx="1640.9" cy="399.1" r="3"/>
<circle cx="1643.1" cy="426.5" r="3"/>
<circle cx="1645.9" cy="423.7" r="3"/>
<circle cx="1648.3" cy="424.6" r="3"/>
<circle cx="1650.6" cy="425.6" r="3"/>
<circle cx="1652.5" cy="419.1" r="3"/>
<circle cx="1654.7" cy="412.5" r="3"/>
<circle cx="1657.1" cy="420.0" r="3"/>
<circle cx="1659.4" cy="426.5" r="3"/>
<circle cx="1661.4" cy="398.2" r="3"/>
<circle cx="1663.6" cy="359.4" r="3"/>
<circle cx="1665.9" cy="313.3" r="3"/>
<circle cx="1667.9" cy="261.6" r="3"/>
<circle cx="1670.2" cy="204.7" r="3"/>
<circle cx="1672.4" cy="188.9" r="3"/>
<circle cx="1674.8" cy="184.2" r="3"/>
<circle cx="1677.2" cy="181.4" r="3"/>
<circle cx="1679.9" cy="184.2" r="3"/>
<circle cx="1682.3" cy="190.8" r="3"/>
<circle cx="1684.7" cy="194.5" r="3"/>
<circle cx="1686.4" cy="206.6" r="3"/>
<circle cx="1688.4" cy="222.1" r="3"/>
<circle cx="1690.7" cy="237.0" r="3"/>
<circle cx="1693.1" cy="254.1" r="3"/>
<circle cx="1695.3" cy="278.4" r="3"/>
<circle cx="1697.8" cy="298.3" r="3"/>
<circle cx="1700.0" cy="318.2" r="3"/>
<circle cx="1702.3" cy="334.0" r="3"/>
<circle cx="1704.3" cy="346.7" r="3"/>
<circle cx="1706.5" cy="350.1" r="3"/>
<circle cx="1708.8" cy="366.9" r="3"/>
<circle cx="1711.2" cy="392.0" r="3"/>
<circle cx="1713.0" cy="395.4" r="3"/>
<circle cx="1715.8" cy="371.5" r="3"/>
<circle cx="1718.1" cy="346.4" r="3"/>
<circle cx="1720.5" cy="308.5" r="3"/>
<circle cx="1722.4" cy="256.0" r="3"/>
<circle cx="1724.6" cy="218.7" r="3"/>
<circle cx="1727.0" cy="213.1" r="3"/>
<circle cx="1729.5" cy="209.4" r="3"/>
<circle cx="1731.7" cy="206.6" r="3"/>
<circle cx="1733.9" cy="203.8" r="3"/>
<circle cx="1736.3" cy="207.5" r="3"/>
<circle cx="1738.6" cy="212.8" r="3"/>
<circle cx="1740.6" cy="223.4" r="3"/>
<circle cx="1742.9" cy="236.8" r="3"/>
<circle cx="1745.1" cy="251.3" r="3"/>
<circle cx="1747.5" cy="273.7" r="3"/>
<circle cx="1749.8" cy="293.7" r="3"/>
<circle cx="1751.8" cy="308.6" r="3"/>
<circle cx="1754.1" cy="327.2" r="3"/>
</g>
<g fill="none" stroke="#7e2f8e" stroke-width="2.4">
<rect x="186" y="134" width="57" height="102"/>
<rect x="565" y="18.5" width="59" height="112.5"/>
<rect x="838" y="264" width="35" height="113"/>
<rect x="1279.2" y="82.2" width="34.799999999999955" height="112.39999999999999"/>
</g>
<path d="M214.7 252.5L222.0 520.0" stroke="#7e2f8e" stroke-width="2.4" fill="none"/>
<path d="M222.3 532.0L215.8 515.2L222.0 520.0L227.8 514.8Z" fill="#7e2f8e"/>
<path d="M593.7 179.5L600.9 526.5" stroke="#7e2f8e" stroke-width="2.4" fill="none"/>
<path d="M601.1 538.5L594.8 521.6L600.9 526.5L606.7 521.4Z" fill="#7e2f8e"/>
<path d="M874.3 384.6L963.4 535.4" stroke="#7e2f8e" stroke-width="2.4" fill="none"/>
<path d="M969.5 545.7L955.7 534.1L963.4 535.4L966.0 528.0Z" fill="#7e2f8e"/>
<path d="M1317.6 208.3L1376.2 519.8" stroke="#7e2f8e" stroke-width="2.4" fill="none"/>
<path d="M1378.4 531.6L1369.4 516.0L1376.2 519.8L1381.2 513.8Z" fill="#7e2f8e"/>
<clipPath id="c1"><rect x="169.5" y="560.5" width="331.0" height="263.0"/></clipPath>
<rect x="169.5" y="560.5" width="331.0" height="263.0" fill="#fff" stroke="#262626" stroke-width="1" shape-rendering="crispEdges"/>
<g stroke="#262626" stroke-width="1" shape-rendering="crispEdges">
<path d="M169.5 591.5h4M500.5 591.5h-4"/>
<path d="M169.5 701.5h4M500.5 701.5h-4"/>
<path d="M169.5 811.5h4M500.5 811.5h-4"/>
</g>
<g font-family="Liberation Sans, Arial, Helvetica, sans-serif" font-size="14.67px" fill="#262626">
<text x="161.9" y="596.5" text-anchor="end" >1400</text>
<text x="161.9" y="706.7" text-anchor="end" >1000</text>
<text x="161.9" y="817.0" text-anchor="end" >600</text>
</g>
<polyline clip-path="url(#c1)" points="167.9,667.2 179.1,639.0 190.9,618.3 203.1,613.5 215.2,612.8 227.0,612.8 238.8,612.8 251.0,613.5 263.1,611.9 275.0,609.6 286.1,609.6 298.9,616.7 311.1,630.4 323.2,663.0 335.0,696.5 347.2,731.7 359.0,760.4 371.1,781.9 382.9,781.9 395.1,782.2 406.9,785.4 419.0,763.6 431.5,728.5 443.3,696.5 455.1,666.2 467.3,632.7 479.1,619.2 490.9,618.6 500.2,617.3" fill="none" stroke="#00b5c8" stroke-width="5.6" stroke-linejoin="round"/>
<g fill="#5cd5c3" stroke="#d08045" stroke-width="2.4">
<circle cx="179.1" cy="639.0" r="4.4"/>
<circle cx="190.9" cy="618.3" r="4.4"/>
<circle cx="203.1" cy="613.5" r="4.4"/>
<circle cx="215.2" cy="612.8" r="4.4"/>
<circle cx="227.0" cy="597.5" r="4.4"/>
<circle cx="238.8" cy="608.1" r="4.4"/>
<circle cx="251.0" cy="588.9" r="4.4"/>
<circle cx="263.1" cy="601.7" r="4.4"/>
<circle cx="275.0" cy="579.9" r="4.4"/>
<circle cx="287.1" cy="595.3" r="4.4"/>
<circle cx="299.2" cy="599.4" r="4.4"/>
<circle cx="311.1" cy="630.4" r="4.4"/>
<circle cx="323.2" cy="657.3" r="4.4"/>
<circle cx="335.0" cy="716.7" r="4.4"/>
<circle cx="347.2" cy="752.5" r="4.4"/>
<circle cx="359.3" cy="778.0" r="4.4"/>
<circle cx="371.1" cy="809.0" r="4.4"/>
<circle cx="382.9" cy="803.6" r="4.4"/>
<circle cx="395.1" cy="789.8" r="4.4"/>
<circle cx="406.9" cy="788.6" r="4.4"/>
<circle cx="419.0" cy="761.4" r="4.4"/>
<circle cx="431.5" cy="721.5" r="4.4"/>
<circle cx="443.3" cy="689.5" r="4.4"/>
<circle cx="455.1" cy="665.9" r="4.4"/>
<circle cx="467.3" cy="631.4" r="4.4"/>
<circle cx="479.1" cy="618.6" r="4.4"/>
<circle cx="490.9" cy="618.3" r="4.4"/>
</g>
<clipPath id="c2"><rect x="567.5" y="557.5" width="331.0" height="265.0"/></clipPath>
<rect x="567.5" y="557.5" width="331.0" height="265.0" fill="#fff" stroke="#262626" stroke-width="1" shape-rendering="crispEdges"/>
<g stroke="#262626" stroke-width="1" shape-rendering="crispEdges">
<path d="M567.5 606.5h4M898.5 606.5h-4"/>
<path d="M567.5 697.5h4M898.5 697.5h-4"/>
<path d="M567.5 788.5h4M898.5 788.5h-4"/>
</g>
<g font-family="Liberation Sans, Arial, Helvetica, sans-serif" font-size="14.67px" fill="#262626">
<text x="559.9" y="611.9" text-anchor="end" >1600</text>
<text x="559.9" y="702.6" text-anchor="end" >1200</text>
<text x="559.9" y="793.6" text-anchor="end" >800</text>
</g>
<polyline clip-path="url(#c2)" points="567.9,813.2 583.3,807.7 599.2,797.2 614.9,785.4 630.9,760.4 646.5,715.1 662.5,682.2 678.1,650.2 694.1,616.7 709.8,599.7 725.4,605.5 741.1,609.6 757.1,619.9 772.7,634.2 788.4,651.2 804.3,664.0 820.0,688.6 835.7,714.1 851.6,740.6 867.3,759.8 883.3,779.6 898.9,781.9" fill="none" stroke="#00b5c8" stroke-width="5.6" stroke-linejoin="round"/>
<g fill="#5cd5c3" stroke="#d08045" stroke-width="2.4">
<circle cx="567.9" cy="810.9" r="4.4"/>
<circle cx="583.3" cy="798.1" r="4.4"/>
<circle cx="599.2" cy="782.8" r="4.4"/>
<circle cx="614.9" cy="760.4" r="4.4"/>
<circle cx="630.9" cy="726.9" r="4.4"/>
<circle cx="646.5" cy="671.9" r="4.4"/>
<circle cx="662.5" cy="653.1" r="4.4"/>
<circle cx="678.1" cy="631.4" r="4.4"/>
<circle cx="693.8" cy="594.6" r="4.4"/>
<circle cx="709.8" cy="571.0" r="4.4"/>
<circle cx="725.4" cy="580.3" r="4.4"/>
<circle cx="741.1" cy="575.8" r="4.4"/>
<circle cx="756.7" cy="566.5" r="4.4"/>
<circle cx="772.7" cy="587.9" r="4.4"/>
<circle cx="788.4" cy="618.9" r="4.4"/>
<circle cx="804.3" cy="641.6" r="4.4"/>
<circle cx="820.0" cy="670.0" r="4.4"/>
<circle cx="835.7" cy="709.0" r="4.4"/>
<circle cx="851.6" cy="740.0" r="4.4"/>
<circle cx="867.3" cy="759.5" r="4.4"/>
<circle cx="883.3" cy="778.3" r="4.4"/>
<circle cx="898.9" cy="782.8" r="4.4"/>
</g>
<clipPath id="c3"><rect x="962.5" y="557.5" width="330.0" height="262.0"/></clipPath>
<rect x="962.5" y="557.5" width="330.0" height="262.0" fill="#fff" stroke="#262626" stroke-width="1" shape-rendering="crispEdges"/>
<g stroke="#262626" stroke-width="1" shape-rendering="crispEdges">
<path d="M962.5 567.5h4M1292.5 567.5h-4"/>
<path d="M962.5 680.5h4M1292.5 680.5h-4"/>
<path d="M962.5 793.5h4M1292.5 793.5h-4"/>
</g>
<g font-family="Liberation Sans, Arial, Helvetica, sans-serif" font-size="14.67px" fill="#262626">
<text x="954.9" y="572.9" text-anchor="end" >1200</text>
<text x="954.9" y="686.0" text-anchor="end" >1000</text>
<text x="954.9" y="798.8" text-anchor="end" >800</text>
</g>
<polyline clip-path="url(#c3)" points="962.4,750.2 974.2,736.5 994.0,718.9 1013.8,696.5 1034.0,687.6 1053.8,684.7 1073.9,735.5 1093.7,724.3 1113.5,712.5 1133.6,699.7 1153.5,687.0 1173.3,650.2 1193.1,672.6 1212.9,701.3 1233.0,706.8 1252.8,734.9 1272.6,755.7 1292.7,754.7" fill="none" stroke="#00b5c8" stroke-width="5.6" stroke-linejoin="round"/>
<g fill="#5cd5c3" stroke="#d08045" stroke-width="2.4">
<circle cx="974.2" cy="744.5" r="4.4"/>
<circle cx="994.0" cy="722.7" r="4.4"/>
<circle cx="1013.8" cy="687.0" r="4.4"/>
<circle cx="1034.0" cy="651.2" r="4.4"/>
<circle cx="1053.8" cy="663.0" r="4.4"/>
<circle cx="1073.9" cy="692.4" r="4.4"/>
<circle cx="1093.4" cy="682.2" r="4.4"/>
<circle cx="1113.5" cy="673.2" r="4.4"/>
<circle cx="1133.3" cy="656.9" r="4.4"/>
<circle cx="1153.5" cy="608.7" r="4.4"/>
<circle cx="1172.9" cy="595.9" r="4.4"/>
<circle cx="1193.1" cy="624.0" r="4.4"/>
<circle cx="1212.9" cy="660.8" r="4.4"/>
<circle cx="1233.0" cy="697.8" r="4.4"/>
<circle cx="1252.8" cy="745.8" r="4.4"/>
<circle cx="1272.6" cy="757.9" r="4.4"/>
</g>
<clipPath id="c4"><rect x="1350.5" y="557.5" width="332.0" height="267.0"/></clipPath>
<rect x="1350.5" y="557.5" width="332.0" height="267.0" fill="#fff" stroke="#262626" stroke-width="1" shape-rendering="crispEdges"/>
<g stroke="#262626" stroke-width="1" shape-rendering="crispEdges">
<path d="M1350.5 578.5h4M1682.5 578.5h-4"/>
<path d="M1350.5 671.5h4M1682.5 671.5h-4"/>
<path d="M1350.5 794.5h4M1682.5 794.5h-4"/>
</g>
<g font-family="Liberation Sans, Arial, Helvetica, sans-serif" font-size="14.67px" fill="#262626">
<text x="1342.9" y="583.7" text-anchor="end" >1500</text>
<text x="1342.9" y="676.7" text-anchor="end" >1200</text>
<text x="1342.9" y="800.0" text-anchor="end" >800</text>
</g>
<polyline clip-path="url(#c4)" points="1350.5,799.4 1378.9,787.0 1407.3,747.7 1435.8,706.1 1463.9,675.8 1492.3,627.9 1520.4,590.2 1548.6,587.9 1577.0,595.0 1605.1,598.1 1633.5,610.9 1661.7,625.6 1682.7,633.3" fill="none" stroke="#00b5c8" stroke-width="5.6" stroke-linejoin="round"/>
<g fill="#5cd5c3" stroke="#d08045" stroke-width="2.4">
<circle cx="1350.5" cy="789.5" r="4.4"/>
<circle cx="1379.2" cy="784.1" r="4.4"/>
<circle cx="1407.3" cy="729.8" r="4.4"/>
<circle cx="1435.8" cy="698.1" r="4.4"/>
<circle cx="1463.9" cy="656.6" r="4.4"/>
<circle cx="1492.0" cy="599.7" r="4.4"/>
<circle cx="1548.9" cy="569.7" r="4.4"/>
<circle cx="1577.0" cy="566.5" r="4.4"/>
<circle cx="1605.4" cy="579.0" r="4.4"/>
<circle cx="1633.5" cy="610.3" r="4.4"/>
<circle cx="1661.7" cy="625.6" r="4.4"/>
</g>
<rect x="1565.5" y="27.5" width="176" height="43" fill="#fff" stroke="#262626" stroke-width="1" shape-rendering="crispEdges"/>
<path d="M1570 39.5H1616" stroke="#00b5c8" stroke-width="5"/>
<circle cx="1593" cy="58.5" r="3" fill="#5cd5c3" stroke="#d08045" stroke-width="2.8"/>
<g font-family="Liberation Sans, Arial, Helvetica, sans-serif" font-size="14.67px" fill="#000">
<text x="1619.6" y="44.7" textLength="99.4" lengthAdjust="spacingAndGlyphs">The original data</text>
<text x="1619.6" y="64.6" textLength="117.5" lengthAdjust="spacingAndGlyphs">The generated data</text>
</g>
</svg>
</body></html>
